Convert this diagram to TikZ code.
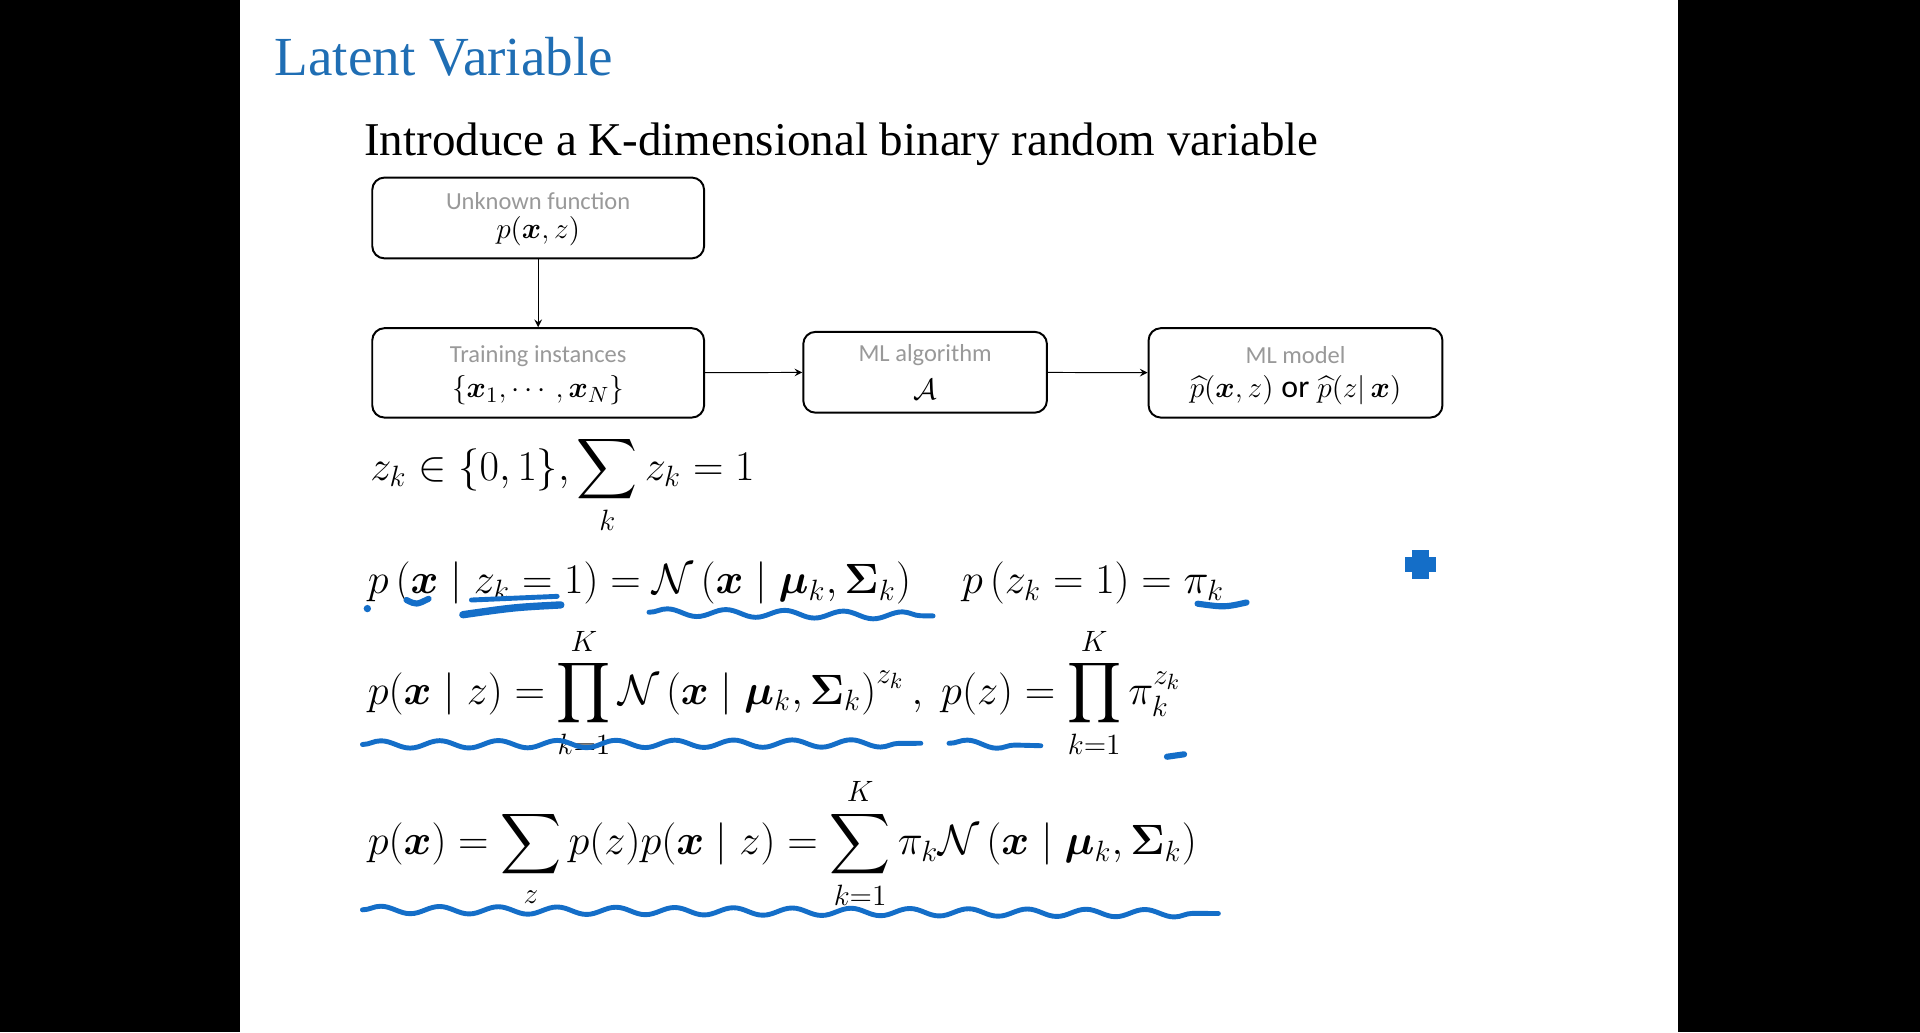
\documentclass[tikz,border=0pt]{standalone}
\usepackage{amsmath,bm}
\usepackage{fontspec}
\setmainfont{Liberation Serif}
\newfontfamily\calib{Carlito}
\usetikzlibrary{decorations.pathmorphing}
\definecolor{ttl}{RGB}{31,110,180}
\definecolor{ink}{RGB}{20,110,200}
\begin{document}
\begin{tikzpicture}[x=0.5pt,y=-0.5pt,
  box/.style={draw,thick,rounded corners=5pt,align=center,inner sep=0pt},
  lab/.style={font=\calib\fontsize{10}{11}\selectfont\color{gray!80}},
  eq/.style={anchor=base west,inner sep=0pt,font=\fontsize{18}{20}\selectfont},
  wave/.style={ink,line width=2pt,line cap=round,decorate,decoration={snake,amplitude=1.5pt,segment length=24pt}},
  arr/.style={->,>=stealth}]
\useasboundingbox (0,0) rectangle (1568,843);
\fill[black] (0,0) rectangle (1568,843);
\fill[white] (196,0) rectangle (1370,843);
\node[anchor=base west,inner sep=0pt,text=ttl,font=\fontsize{22.5}{24}\selectfont] (t) at (224,62) {Latent Variable};
\node[anchor=base west,inner sep=0pt,font=\fontsize{19.2}{22}\selectfont] (intro) at (297,127) {Introduce a K-dimensional binary random variable};
\node[box,minimum width=135.5pt,minimum height=33pt] (uf) at (439.5,178) {};
\node[lab] at (439.5,164) {Unknown function};
\node[font=\fontsize{13}{14}\selectfont] at (439.5,189) {$p(\bm{x},z)$};
\node[box,minimum width=135.5pt,minimum height=36.5pt] (ti) at (439.5,304.5) {};
\node[lab] at (439.5,291) {Training instances};
\node[font=\fontsize{13}{14}\selectfont] at (439.5,319) {$\{\bm{x}_1,\cdots,\bm{x}_N\}$};
\node[box,minimum width=99.5pt,minimum height=33pt] (ml) at (755.5,304) {};
\node[lab] at (755.5,290) {ML algorithm};
\node[font=\fontsize{13}{14}\selectfont] at (755.5,318) {$\mathcal{A}$};
\node[box,minimum width=120pt,minimum height=36.5pt] (mm) at (1058,304.5) {};
\node[lab] at (1058,290) {ML model};
\node[font=\fontsize{13}{14}\selectfont] at (1058,319) {$\widehat{p}(\bm{x},z)$ {\calib or} $\widehat{p}(z|\,\bm{x})$};
\draw[arr] (uf) -- (ti);
\draw[arr] (ti) -- (ml);
\draw[arr] (ml) -- (mm);
\node[eq] (e1) at (302,392) {$\displaystyle z_k\in\{0,1\},\sum_k z_k=1$};
\node[eq] (e2) at (300,485) {$\displaystyle p\left(\bm{x}\mid z_k=1\right)=\mathcal{N}\left(\bm{x}\mid\bm{\mu}_k,\bm{\Sigma}_k\right)\quad p\left(z_k=1\right)=\pi_k$};
\node[eq] (e3) at (300,575) {$\displaystyle p(\bm{x}\mid z)=\prod_{k=1}^{K}\mathcal{N}\left(\bm{x}\mid\bm{\mu}_k,\bm{\Sigma}_k\right)^{z_k},\ p(z)=\prod_{k=1}^{K}\pi_k^{z_k}$};
\node[eq] (e4) at (300,698) {$\displaystyle p(\bm{x})=\sum_{z}p(z)p(\bm{x}\mid z)=\sum_{k=1}^{K}\pi_k\mathcal{N}\left(\bm{x}\mid\bm{\mu}_k,\bm{\Sigma}_k\right)$};
% ink
\draw[ink,line width=2.5pt,line cap=round] (332,490) .. controls (340,494) .. (350,489);
\fill[ink] (300,497) circle (1.5pt);
\draw[ink,line width=3pt,line cap=round] (378,502) .. controls (420,496) .. (458,494);
\draw[ink,line width=2pt,line cap=round] (385,490) -- (455,487);
\draw[wave] (530,500) -- (762,503);
\draw[ink,line width=2.5pt,line cap=round] (978,493) .. controls (1000,496) .. (1018,492);
\draw[wave] (296,608) -- (752,607);
\draw[wave] (775,607) -- (850,609);
\draw[ink,line width=2.5pt,line cap=round] (953,618) -- (967,616);
\draw[wave] (296,743) -- (995,746);
\fill[ink] (1153,449) rectangle (1167,473);
\fill[ink] (1147,455) rectangle (1173,467);
\end{tikzpicture}
\end{document}
